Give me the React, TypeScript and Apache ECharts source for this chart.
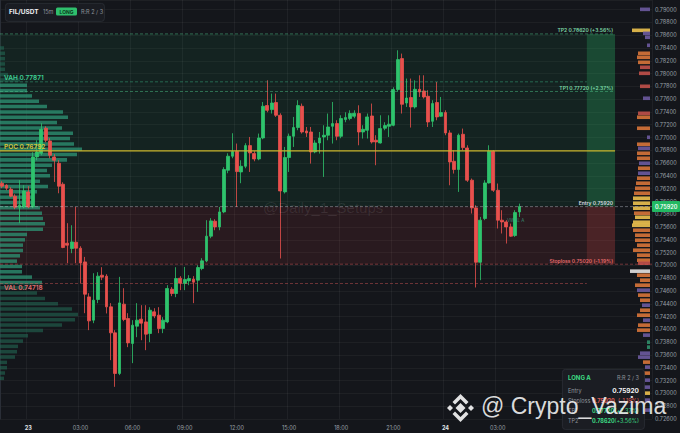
import React, { useEffect, useRef } from "react";
import * as echarts from "echarts";

// ---- time slots (15m candles) ----
const START_DAY = 22;
const START_MIN = 22 * 60 + 30;
const SLOT_MIN = 15;
const SLOTS = 150;
const LAST_LABEL_SLOT = 120;

// ---- candles ----
const OPEN = [
  0.76286, 0.76254, 0.76192, 0.76083, 0.75911, 0.75915, 0.7615, 0.75915, 0.76697, 0.76754,
  0.77145, 0.76947, 0.76697, 0.76598, 0.7627, 0.75348, 0.75265, 0.75364, 0.7527, 0.75056,
  0.74509, 0.74145, 0.74468, 0.74848, 0.74833, 0.74353, 0.73947, 0.73312, 0.74395, 0.74172,
  0.73781, 0.74051, 0.74161, 0.74118, 0.73937, 0.74275, 0.74223, 0.74015, 0.74118, 0.74629,
  0.74562, 0.74801, 0.74718, 0.74759, 0.74786, 0.7477, 0.74952, 0.75072, 0.75458, 0.75692,
  0.75603, 0.75837, 0.76489, 0.76708, 0.76781, 0.76462, 0.76551, 0.76874, 0.76749, 0.76665,
  0.76993, 0.775, 0.77437, 0.77547, 0.77348, 0.7615, 0.76687, 0.7702, 0.77156, 0.77489,
  0.77103, 0.77087, 0.76775, 0.76915, 0.77009, 0.77036, 0.77176, 0.77218, 0.7702, 0.77281,
  0.77297, 0.77333, 0.77375, 0.77087, 0.77114, 0.77337, 0.76958, 0.76915, 0.77145, 0.77176,
  0.77192, 0.7775, 0.78234, 0.7754, 0.77625, 0.77478, 0.77754, 0.77728, 0.77645, 0.77254,
  0.77547, 0.77333, 0.7739, 0.77072, 0.76629, 0.765, 0.77051, 0.76837, 0.76333, 0.759,
  0.75051, 0.75734, 0.7629, 0.76786, 0.76176, 0.75708, 0.75681, 0.75603, 0.75468, 0.75837,
];
const CLOSE = [
  0.76239, 0.76208, 0.76083, 0.75911, 0.75942, 0.76165, 0.75915, 0.76697, 0.76775, 0.77129,
  0.76958, 0.76723, 0.76645, 0.76239, 0.75281, 0.75317, 0.75368, 0.7527, 0.7504, 0.74551,
  0.74134, 0.74458, 0.74833, 0.74817, 0.74353, 0.73947, 0.73312, 0.74415, 0.74156, 0.7379,
  0.74067, 0.74145, 0.74098, 0.73926, 0.74301, 0.74212, 0.74015, 0.74145, 0.7464, 0.74562,
  0.74796, 0.74723, 0.7478, 0.74796, 0.74739, 0.74968, 0.75072, 0.75458, 0.75697, 0.75603,
  0.75837, 0.765, 0.76708, 0.76781, 0.76468, 0.76551, 0.76874, 0.76759, 0.76665, 0.76993,
  0.77489, 0.77426, 0.7754, 0.77348, 0.76165, 0.76687, 0.7702, 0.77156, 0.775, 0.77087,
  0.77072, 0.76775, 0.76915, 0.76993, 0.77036, 0.77165, 0.77218, 0.7702, 0.77297, 0.77312,
  0.77375, 0.77379, 0.77087, 0.77129, 0.77322, 0.76931, 0.76931, 0.7714, 0.77187, 0.77208,
  0.7775, 0.78218, 0.7752, 0.77618, 0.77478, 0.77754, 0.77712, 0.77634, 0.77243, 0.77531,
  0.77322, 0.7739, 0.77072, 0.76618, 0.765, 0.77036, 0.76843, 0.76333, 0.759, 0.75051,
  0.75708, 0.7629, 0.76786, 0.76176, 0.75708, 0.75681, 0.75603, 0.75458, 0.75827, 0.7592,
];
const LOW = [
  0.76208, 0.76176, 0.76067, 0.75879, 0.75661, 0.75895, 0.75895, 0.75895, 0.76645, 0.76723,
  0.76926, 0.76676, 0.76306, 0.76129, 0.7527, 0.75036, 0.75192, 0.75036, 0.74724, 0.74254,
  0.73989, 0.74098, 0.74411, 0.7477, 0.7425, 0.7352, 0.73103, 0.73286, 0.74129, 0.73723,
  0.73473, 0.73879, 0.73832, 0.73676, 0.73801, 0.74176, 0.73942, 0.73942, 0.74098, 0.7452,
  0.74504, 0.74614, 0.74614, 0.74692, 0.74411, 0.74587, 0.74926, 0.75051, 0.75426, 0.75551,
  0.75551, 0.75817, 0.76442, 0.76676, 0.75915, 0.76286, 0.7652, 0.76462, 0.76629, 0.76645,
  0.76973, 0.77395, 0.77375, 0.77322, 0.75109, 0.76125, 0.76462, 0.76853, 0.77114, 0.77062,
  0.77009, 0.76593, 0.76754, 0.76749, 0.76384, 0.76958, 0.76906, 0.76958, 0.76989, 0.77239,
  0.7727, 0.77301, 0.76879, 0.76984, 0.76984, 0.76906, 0.76567, 0.76906, 0.77114, 0.77009,
  0.77176, 0.77723, 0.77375, 0.77478, 0.77156, 0.77453, 0.77634, 0.77609, 0.77165, 0.77165,
  0.7727, 0.77322, 0.77036, 0.76254, 0.76437, 0.7615, 0.76801, 0.76306, 0.75812, 0.74656,
  0.7477, 0.75708, 0.76281, 0.7615, 0.75578, 0.755, 0.75343, 0.75447, 0.75447, 0.75759,
];
const HIGH = [
  0.76317, 0.7627, 0.76223, 0.76114, 0.76333, 0.76254, 0.76239, 0.7677, 0.76958, 0.77223,
  0.77176, 0.76989, 0.76739, 0.76645, 0.76301, 0.75661, 0.75629, 0.75915, 0.75301, 0.75134,
  0.74567, 0.74879, 0.74895, 0.74973, 0.74864, 0.74411, 0.73989, 0.74822, 0.74645, 0.74254,
  0.74145, 0.74411, 0.74379, 0.74379, 0.74348, 0.74332, 0.74348, 0.74192, 0.74692, 0.74661,
  0.74973, 0.74833, 0.74978, 0.74848, 0.74833, 0.75004, 0.75114, 0.75708, 0.75739, 0.75723,
  0.75915, 0.76536, 0.76754, 0.77067, 0.76906, 0.76645, 0.76911, 0.77009, 0.76786, 0.77062,
  0.77556, 0.77895, 0.77687, 0.77687, 0.77379, 0.76853, 0.77062, 0.77322, 0.77583, 0.77531,
  0.77165, 0.77165, 0.76958, 0.77087, 0.77192, 0.77375, 0.77556, 0.7727, 0.77348, 0.77395,
  0.77426, 0.77426, 0.77504, 0.77192, 0.77375, 0.77531, 0.77036, 0.77348, 0.77239, 0.77348,
  0.77786, 0.78364, 0.78312, 0.77922, 0.77922, 0.77895, 0.77973, 0.77973, 0.77739, 0.77583,
  0.77868, 0.77634, 0.77426, 0.77114, 0.76801, 0.77062, 0.7714, 0.76879, 0.76359, 0.75942,
  0.75759, 0.76333, 0.76879, 0.76801, 0.76281, 0.75864, 0.75708, 0.75655, 0.75864, 0.75967,
];

// ---- price axis ----
const Y_MIN = 0.726;
const Y_MAX = 0.7915;
const Y_STEP = 0.002;

// ---- position / profile levels ----
const LEVEL_NAMES = ["TP2", "TP1", "VAH", "POC", "Entry", "Stoploss", "VAL"];
const LEVEL_PRICES = [0.7862, 0.7772, 0.77871, 0.76792, 0.7592, 0.7502, 0.74718];
const ENTRY_PRICE = 0.7592;
const TP2_PRICE = 0.7862;
const STOP_PRICE = 0.7502;
const VAH_PRICE = 0.77871;
const VAL_PRICE = 0.74718;
const BOX_SPLIT_SLOT = 134;
const BOX_END_SLOT = 141;

// ---- volume profile (left) ----
const VP_TOP = 0.784;
const VP_STEP = 0.000833;
const VP_VOL = [
  4, 5, 5, 5, 5, 8, 20, 27, 27, 32, 39, 47, 63, 68, 57, 62, 73, 70, 74, 82, 77, 67, 52, 47, 50, 40,
  48, 37, 32, 33, 40, 42, 43, 45, 43, 27, 25, 23, 23, 20, 17, 22, 22, 32, 42, 27, 37, 45, 58, 72,
  78, 75, 62, 43, 28, 23, 18, 17, 15, 7, 7, 5, 4,
];

// ---- order book heat column (right) ----
const OB_PRICE = [
  0.79004, 0.78676, 0.78629, 0.78567, 0.78442, 0.78317, 0.78254, 0.78176, 0.78098, 0.78004,
  0.77801, 0.77614, 0.77379, 0.77317, 0.77145, 0.77004, 0.76895, 0.76832, 0.76754, 0.76676,
  0.76598, 0.7652, 0.76442, 0.76364, 0.76286, 0.76207, 0.76129, 0.76051, 0.75973, 0.75895,
  0.75817, 0.75754, 0.75676, 0.75629, 0.75551, 0.75473, 0.75395, 0.75317, 0.75239, 0.75161,
  0.75082, 0.75036, 0.74911, 0.74848, 0.7477, 0.74692, 0.74614, 0.74536, 0.74457, 0.74379,
  0.74301, 0.74223, 0.74145, 0.74067, 0.73989, 0.73911, 0.73801, 0.73723, 0.73629, 0.73567,
  0.73489, 0.73411, 0.73317, 0.73207, 0.73098, 0.73004, 0.72895, 0.72739,
];
const OB_SIZE = [
  10, 18, 7, 5, 3, 12, 13, 12, 10, 11, 10, 7, 12, 13, 13, 3, 13, 12, 13, 13, 11, 12, 12, 13, 14,
  15, 16, 17, 17, 17, 16, 15, 17, 18, 17, 15, 15, 13, 17, 13, 13, 12, 20, 13, 10, 15, 13, 12, 10,
  8, 10, 13, 7, 12, 13, 7, 3, 3, 10, 12, 7, 5, 7, 5, 7, 5, 5, 5,
];
const OB_KIND = [
  "p", "y", "p", "p", "p", "o", "o", "o", "r", "r", "r", "p", "r", "o", "o", "p", "o", "p", "o", "o",
  "p", "o", "p", "o", "o", "o", "o", "y", "y", "y", "o", "y", "y", "y", "o", "o", "o", "o", "o", "o",
  "o", "r", "w", "o", "o", "o", "p", "o", "o", "p", "o", "o", "p", "o", "o", "p", "g", "g", "p", "p",
  "o", "p", "o", "p", "p", "y", "p", "p",
];

const FONT = "Inter, Roboto, 'Liberation Sans', sans-serif";
const BG = "#14161b";
const UP = "#2ec36c";
const DOWN = "#e8504d";

const CATS = Array.from({ length: SLOTS }, (_, i) => {
  const t = START_MIN + i * SLOT_MIN;
  const day = START_DAY + Math.floor(t / 1440);
  const m = t % 1440;
  const hh = String(Math.floor(m / 60)).padStart(2, "0");
  const mm = String(m % 60).padStart(2, "0");
  return `${day} ${hh}:${mm}`;
});

const isMajor = (i: number, v: string) => {
  if (i > LAST_LABEL_SLOT) return false;
  const [h, m] = v.split(" ")[1].split(":").map(Number);
  return m === 0 && h % 3 === 0;
};

const pct = (p: number) => {
  const v = (p / ENTRY_PRICE - 1) * 100;
  return `${v >= 0 ? "+" : ""}${v.toFixed(2)}%`;
};

const LEVEL_STYLE: Record<string, any> = {
  TP2: { stroke: "rgba(80,200,140,0.6)", dash: [3, 2], end: "box", side: "right", color: "#7fdcaa", pct: true },
  TP1: { stroke: "rgba(80,200,140,0.6)", dash: [3, 2], end: "box", side: "right", color: "#7fdcaa", pct: true },
  VAH: { stroke: "rgba(60,190,140,0.55)", dash: [3, 2], end: "split", side: "left", color: "#3fcf93" },
  POC: { stroke: "#c9b52c", dash: null, end: "box", side: "left", color: "#d8c53a", width: 1.3 },
  Entry: { stroke: "rgba(190,195,205,0.55)", dash: [3, 2], end: "full", side: "right", color: "#d6dae0" },
  Stoploss: { stroke: "rgba(220,90,90,0.6)", dash: [3, 2], end: "full", side: "right", color: "#e46b6b", pct: true },
  VAL: { stroke: "rgba(220,90,90,0.55)", dash: [3, 2], end: "split", side: "leftBelow", color: "#e07070" },
};

const OB_COLOR: Record<string, string> = {
  o: "rgba(215,116,58,0.9)",
  y: "rgba(226,184,76,0.95)",
  r: "rgba(192,80,74,0.9)",
  p: "rgba(107,90,160,0.9)",
  g: "rgba(47,143,106,0.9)",
  w: "rgba(217,217,217,0.95)",
};

function buildOption(): any {
  const candles = CLOSE.map((c, i) => [OPEN[i], c, LOW[i], HIGH[i]]);
  const vpData = VP_VOL.map((v, k) => [v, VP_TOP - k * VP_STEP]);
  const obData = OB_SIZE.map((s, i) => [s, OB_PRICE[i], i]);

  return {
    animation: false,
    backgroundColor: BG,
    grid: { left: 0, right: 28, top: 0, bottom: 14, containLabel: false },
    xAxis: [
      {
        type: "category",
        data: CATS,
        boundaryGap: true,
        axisLine: { show: false },
        axisTick: { show: false },
        axisLabel: {
          interval: isMajor,
          fontSize: 5.5,
          color: "#9aa0a8",
          fontFamily: FONT,
          margin: 6,
          formatter: (v: string) => {
            const [d, hm] = v.split(" ");
            return hm === "00:00" ? `{d|${d}}` : hm;
          },
          rich: { d: { fontSize: 5.5, fontWeight: "bold", color: "#e0e3e8", fontFamily: FONT } },
        },
        splitLine: { show: true, interval: isMajor, lineStyle: { color: "rgba(255,255,255,0.05)", width: 1 } },
      },
      { type: "value", min: 0, max: 652, show: false, gridIndex: 0 },
    ],
    yAxis: {
      type: "value",
      position: "right",
      min: Y_MIN,
      max: Y_MAX,
      interval: Y_STEP,
      axisLine: { show: true, lineStyle: { color: "#2a2e37" } },
      axisTick: { show: false },
      axisLabel: {
        fontSize: 5.5,
        color: "#9aa0a8",
        fontFamily: FONT,
        margin: 3,
        showMaxLabel: false,
        formatter: (v: number) => v.toFixed(5),
      },
      splitLine: { show: true, lineStyle: { color: "rgba(255,255,255,0.045)" } },
    },
    series: [
      {
        type: "custom",
        name: "zones",
        xAxisIndex: 0,
        yAxisIndex: 0,
        z: 1,
        silent: true,
        data: [[0, ENTRY_PRICE]],
        renderItem: (params: any, api: any) => {
          const cs = params.coordSys;
          const half = api.size([1, 0])[0] / 2;
          const xs = api.coord([BOX_SPLIT_SLOT, ENTRY_PRICE])[0] + half;
          const xe = api.coord([BOX_END_SLOT, ENTRY_PRICE])[0];
          const yT = api.coord([0, TP2_PRICE])[1];
          const yE = api.coord([0, ENTRY_PRICE])[1];
          const yS = api.coord([0, STOP_PRICE])[1];
          return {
            type: "group",
            children: [
              { type: "rect", shape: { x: cs.x, y: yT, width: xs - cs.x, height: yE - yT }, style: { fill: "rgba(34,160,90,0.10)" } },
              { type: "rect", shape: { x: xs, y: yT, width: xe - xs, height: yE - yT }, style: { fill: "rgba(40,180,100,0.33)" } },
              { type: "rect", shape: { x: cs.x, y: yE, width: xs - cs.x, height: yS - yE }, style: { fill: "rgba(220,60,60,0.11)" } },
              { type: "rect", shape: { x: xs, y: yE, width: xe - xs, height: yS - yE }, style: { fill: "rgba(220,70,70,0.27)" } },
            ],
          };
        },
      },
      {
        type: "custom",
        name: "profile",
        xAxisIndex: 1,
        yAxisIndex: 0,
        z: 2,
        silent: true,
        data: vpData,
        renderItem: (_params: any, api: any) => {
          const v = api.value(0);
          const p = api.value(1);
          const a = api.coord([0, p]);
          const b = api.coord([v, p]);
          const h = api.size([0, VP_STEP])[1] * 0.66;
          const inVA = p <= VAH_PRICE && p >= VAL_PRICE;
          return {
            type: "rect",
            shape: { x: a[0], y: a[1] - h / 2, width: b[0] - a[0], height: h },
            style: { fill: inVA ? "rgba(46,150,118,0.75)" : "rgba(34,104,84,0.6)" },
          };
        },
      },
      {
        type: "custom",
        name: "orderbook",
        xAxisIndex: 1,
        yAxisIndex: 0,
        z: 2,
        silent: true,
        data: obData,
        renderItem: (params: any, api: any) => {
          const cs = params.coordSys;
          const right = cs.x + cs.width - 2;
          const w = api.size([api.value(0), 0])[0];
          const y = api.coord([0, api.value(1)])[1];
          const kind = OB_KIND[api.value(2)];
          return {
            type: "rect",
            shape: { x: right - w, y: y - 1.8, width: w, height: 3.6 },
            style: { fill: OB_COLOR[kind] },
          };
        },
      },
      {
        type: "candlestick",
        name: "FIL/USDT",
        xAxisIndex: 0,
        yAxisIndex: 0,
        z: 3,
        barWidth: 3.3,
        data: candles,
        itemStyle: { color: UP, color0: DOWN, borderColor: UP, borderColor0: DOWN, borderWidth: 0.8 },
      },
      {
        type: "custom",
        name: "levels",
        xAxisIndex: 0,
        yAxisIndex: 0,
        z: 4,
        silent: true,
        data: LEVEL_PRICES.map((p) => [0, p]),
        renderItem: (params: any, api: any) => {
          const cs = params.coordSys;
          const name = LEVEL_NAMES[params.dataIndex];
          const st = LEVEL_STYLE[name];
          const price = api.value(1);
          const y = api.coord([0, price])[1];
          const half = api.size([1, 0])[0] / 2;
          const xSplit = api.coord([BOX_SPLIT_SLOT, price])[0] + half;
          const xBox = api.coord([BOX_END_SLOT, price])[0];
          const xEnd = st.end === "box" ? xBox : st.end === "split" ? xSplit : cs.x + cs.width;
          const label = `${name} ${price.toFixed(5)}${st.pct ? ` (${pct(price)})` : ""}`;
          const children: any[] = [
            {
              type: "line",
              shape: { x1: cs.x, y1: y, x2: xEnd, y2: y },
              style: { stroke: st.stroke, lineWidth: st.width || 0.8, lineDash: st.dash || undefined },
            },
          ];
          if (st.side === "right") {
            children.push({
              type: "text",
              x: xBox - 2,
              y: y - 1,
              style: { text: label, fill: st.color, fontSize: 5, fontWeight: 600, fontFamily: FONT, align: "right", verticalAlign: "bottom" },
            });
          } else {
            children.push({
              type: "text",
              x: cs.x + 4,
              y: st.side === "leftBelow" ? y + 1 : y - 0.8,
              style: {
                text: label,
                fill: st.color,
                fontSize: 6.5,
                fontWeight: 600,
                fontFamily: FONT,
                align: "left",
                verticalAlign: st.side === "leftBelow" ? "top" : "bottom",
              },
            });
          }
          if (name === "Entry") {
            const x0 = cs.x + cs.width;
            children.push({ type: "rect", shape: { x: x0, y: y - 5.5, width: 28, height: 11, r: 1 }, style: { fill: "#22b862" } });
            children.push({
              type: "text",
              x: x0 + 3,
              y: y,
              style: { text: price.toFixed(5), fill: "#ffffff", fontSize: 5.5, fontFamily: FONT, fontWeight: 600, align: "left", verticalAlign: "middle" },
            });
          }
          return { type: "group", children };
        },
      },
    ],
    graphic: [
      // header
      { type: "rect", left: 5, top: 3, shape: { width: 99, height: 18, r: 3 }, style: { fill: "#1a1c22", stroke: "#2b2e36", lineWidth: 0.8 }, z: 10 },
      { type: "text", left: 9, top: 8.5, style: { text: "FIL/USDT", fill: "#eef0f3", fontSize: 6.5, fontWeight: "bold", fontFamily: FONT }, z: 11 },
      { type: "text", left: 43, top: 9, style: { text: "15m", fill: "#8f949c", fontSize: 5.5, fontFamily: FONT }, z: 11 },
      { type: "rect", left: 56, top: 7.5, shape: { width: 21, height: 8, r: 1.5 }, style: { fill: "#2fc06d" }, z: 11 },
      { type: "text", left: 59.5, top: 9.3, style: { text: "LONG", fill: "#0d3a20", fontSize: 5, fontWeight: "bold", fontFamily: FONT }, z: 12 },
      { type: "text", left: 81, top: 9, style: { text: "R:R 2 / 3", fill: "#8f949c", fontSize: 5.5, fontFamily: FONT }, z: 11 },
      // watermark
      { type: "text", left: 263, top: 200, style: { text: "@Daily_1_Setups", fill: "rgba(255,255,255,0.09)", fontSize: 15, fontFamily: "'Liberation Sans', sans-serif" }, z: 5 },
      { type: "text", left: 507, top: 218, style: { text: "VWAL A", fill: "rgba(60,170,140,0.8)", fontSize: 4.5, fontFamily: FONT }, z: 5 },
      // info box
      { type: "rect", left: 562, top: 369, shape: { width: 82, height: 60, r: 3 }, style: { fill: "#1b1d23", stroke: "#2c2f37", lineWidth: 0.8 }, z: 10 },
      { type: "text", left: 568, top: 374, style: { text: "LONG A", fill: "#3ddc84", fontSize: 6, fontWeight: "bold", fontFamily: FONT }, z: 11 },
      { type: "text", right: 41, top: 374.5, style: { text: "R:R 2 / 3", fill: "#8f949c", fontSize: 5.5, fontFamily: FONT }, z: 11 },
      { type: "text", left: 568, top: 388, style: { text: "Entry", fill: "#8f949c", fontSize: 5.5, fontFamily: FONT }, z: 11 },
      { type: "text", right: 41, top: 387, style: { text: "0.75920", fill: "#f2f3f5", fontSize: 6.5, fontWeight: "bold", fontFamily: FONT }, z: 11 },
      { type: "text", left: 568, top: 397.5, style: { text: "Stoploss", fill: "#8f949c", fontSize: 5.5, fontFamily: FONT }, z: 11 },
      { type: "text", left: 592, top: 397.5, style: { text: "0.75020", fill: "#e0605a", fontSize: 5.5, fontWeight: "bold", fontFamily: FONT }, z: 11 },
      { type: "text", right: 41, top: 397.5, style: { text: "(-1.19%)", fill: "#e0605a", fontSize: 5.5, fontFamily: FONT }, z: 11 },
      { type: "text", left: 568, top: 407.5, style: { text: "TP1", fill: "#8f949c", fontSize: 5.5, fontFamily: FONT }, z: 11 },
      { type: "text", left: 592, top: 407.5, style: { text: "0.77720", fill: "#3ddc84", fontSize: 5.5, fontWeight: "bold", fontFamily: FONT }, z: 11 },
      { type: "text", right: 41, top: 407.5, style: { text: "(+2.37%)", fill: "#3ddc84", fontSize: 5.5, fontFamily: FONT }, z: 11 },
      { type: "text", left: 568, top: 417.5, style: { text: "TP2", fill: "#8f949c", fontSize: 5.5, fontFamily: FONT }, z: 11 },
      { type: "text", left: 592, top: 417.5, style: { text: "0.78620", fill: "#3ddc84", fontSize: 5.5, fontWeight: "bold", fontFamily: FONT }, z: 11 },
      { type: "text", right: 41, top: 417.5, style: { text: "(+3.56%)", fill: "#3ddc84", fontSize: 5.5, fontFamily: FONT }, z: 11 },
      // Binance logo + big watermark
      {
        type: "group",
        left: 447,
        top: 394,
        z: 20,
        children: [
          { type: "polygon", shape: { points: [[14, 9], [19, 14], [14, 19], [9, 14]] }, style: { fill: "rgba(255,255,255,0.88)" } },
          { type: "polygon", shape: { points: [[3.5, 11], [6.5, 14], [3.5, 17], [0.5, 14]] }, style: { fill: "rgba(255,255,255,0.88)" } },
          { type: "polygon", shape: { points: [[24.5, 11], [27.5, 14], [24.5, 17], [21.5, 14]] }, style: { fill: "rgba(255,255,255,0.88)" } },
          { type: "polygon", shape: { points: [[14, 0], [22, 8], [19.5, 10.5], [14, 5], [8.5, 10.5], [6, 8]] }, style: { fill: "rgba(255,255,255,0.88)" } },
          { type: "polygon", shape: { points: [[14, 28], [22, 20], [19.5, 17.5], [14, 23], [8.5, 17.5], [6, 20]] }, style: { fill: "rgba(255,255,255,0.88)" } },
        ],
      },
      {
        type: "text",
        left: 481,
        top: 394,
        z: 20,
        style: { text: "@ Crypto_Vazima", fill: "rgba(255,255,255,0.85)", fontSize: 23, fontFamily: "'Liberation Sans', Arial, sans-serif" },
      },
    ],
  };
}

export default function App() {
  const ref = useRef<HTMLDivElement>(null);
  useEffect(() => {
    if (!ref.current) return;
    const chart = echarts.init(ref.current, undefined, { renderer: "svg" });
    chart.setOption(buildOption());
    return () => chart.dispose();
  }, []);
  return <div ref={ref} style={{ position: "absolute", left: 0, top: 0, width: 680, height: 433 }} />;
}
